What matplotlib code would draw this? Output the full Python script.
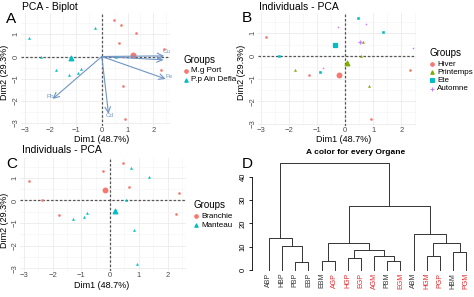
import matplotlib
matplotlib.use("Agg")
import matplotlib.pyplot as plt
from matplotlib.lines import Line2D
import numpy as np

plt.rcParams['font.family'] = ['Liberation Sans', 'DejaVu Sans']

# PCA individual coordinates (Dim1, Dim2)
dim1 = [-2.83, -2.36, -1.78, -1.29, -0.91, -0.80, -0.25, 0.46,
        0.73, 0.65, 0.55, 1.34, 0.84, 0.92, 2.40, 2.29]
dim2 = [0.85, 0.0, -0.62, -0.83, -0.73, -0.54, 1.30, 1.66,
        1.43, 0.60, 0.0, 1.05, -1.31, -2.80, 0.35, -0.60]
species = ['P.p Ain Defla'] * 7 + ['M.g Port'] * 3 + ['P.p Ain Defla'] + ['M.g Port'] * 5
season = ['Hiver', 'Ete', 'Printemps', 'Hiver', 'Ete', 'Automne', 'Automne', 'Ete',
          'Automne', 'Printemps', 'Printemps', 'Ete', 'Printemps', 'Hiver', 'Automne', 'Hiver']
organ = ['Branchie', 'Branchie', 'Branchie', 'Manteau', 'Manteau', 'Manteau', 'Branchie', 'Branchie',
         'Manteau', 'Branchie', 'Manteau', 'Manteau', 'Manteau', 'Manteau', 'Branchie', 'Branchie']

# variables for the biplot
var_names = ['Cu', '', 'Fe', 'Pb', 'Cd']
var_x = [2.42, 2.40, 2.48, -1.91, 0.26]
var_y = [0.03, -0.15, -1.01, -1.91, -2.58]

# dendrogram
leaves = ['ABP', 'HBP', 'PBP', 'EBP', 'EBM', 'AGP', 'HGP', 'EGP',
          'AGM', 'PBM', 'EGM', 'ABM', 'HGM', 'PGP', 'HBM', 'PGM']
leaf_red = [0, 0, 0, 0, 0, 1, 1, 1, 1, 0, 1, 0, 1, 1, 0, 1]
merge_a = [2, 1, 0, 4, 6, 9, 8, 20, 19, 12, 14, 25, 11, 24, 18]
merge_b = [3, 16, 17, 5, 7, 10, 21, 22, 23, 13, 15, 26, 27, 28, 29]
merge_h = [3.3, 10.3, 13.7, 4.0, 5.2, 4.0, 5.8, 8.8, 11.8, 6.1, 7.8, 11.6, 15.6, 27.4, 46.1]

W, H = 474, 297
fig = plt.figure(figsize=(W / 100, H / 100), dpi=100)


def px(x, y):
    return x / W, 1 - y / H


def rect(l, t, r, b):
    return [l / W, 1 - b / H, (r - l) / W, (b - t) / H]


gray = '#4d4d4d'


def pca_ax(r, xlim, ylim, xlab_pos, ylab_pos):
    ax = fig.add_axes(r)
    ax.set_xlim(*xlim)
    ax.set_ylim(*ylim)
    ax.set_xticks([-3, -2, -1, 0, 1, 2])
    ax.set_yticks([-3, -2, -1, 0, 1])
    ax.set_xticks(np.arange(-3, 3, 0.5), minor=True)
    ax.set_yticks(np.arange(-3, 2, 0.5), minor=True)
    ax.grid(which='major', color='#ebebeb', lw=0.6)
    ax.grid(which='minor', color='#f4f4f4', lw=0.4)
    ax.set_axisbelow(True)
    for s in ax.spines.values():
        s.set_visible(False)
    ax.tick_params(which='both', length=0, labelsize=5.5, labelcolor=gray, pad=0.8)
    for lab in ax.get_yticklabels():
        lab.set_rotation(90)
        lab.set_va('center')
    ax.axhline(0, color='#555555', ls=(0, (2, 1.5)), lw=0.9, zorder=1)
    ax.axvline(0, color='#555555', ls=(0, (2, 1.5)), lw=0.9, zorder=1)
    fig.text(*px(*xlab_pos), 'Dim1 (48.7%)', fontsize=6.5, ha='center', va='center')
    fig.text(*px(*ylab_pos), 'Dim2 (29.3%)', fontsize=6.5, ha='center', va='center', rotation=90)
    return ax


def draw_groups(ax, groups, levels, colors, markers, small, big):
    x = np.array(dim1)
    y = np.array(dim2)
    g = np.array(groups)
    for lev, c, m in zip(levels, colors, markers):
        sel = g == lev
        ax.scatter(x[sel], y[sel], s=small, color=c, marker=m, lw=0.4, zorder=3)
        ax.scatter(x[sel].mean(), y[sel].mean(), s=big, color=c, marker=m, lw=0.9, zorder=4)


def legend(x, y, levels, colors, markers, step):
    fig.text(*px(x, y), 'Groups', fontsize=7, va='center', ha='left')
    for i, (lev, c, m) in enumerate(zip(levels, colors, markers)):
        yy = y + 11 + i * step
        fig.add_artist(Line2D([(x + 3) / W], [1 - yy / H], marker=m, color=c, ms=2.6, mew=0.7, ls=''))
        fig.text(*px(x + 8, yy), lev, fontsize=5.8, va='center', ha='left')


red, teal = '#F8766D', '#00BFC4'
vcol = '#7095c4'

# Panel A
axA = pca_ax(rect(21, 13, 170, 126), (-3.14, 2.65), (-3.13, 1.96), (102, 139.5), (4.5, 72))
for vx, vy, vn in zip(var_x, var_y, var_names):
    axA.annotate('', xy=(vx, vy), xytext=(0, 0),
                 arrowprops=dict(arrowstyle='->', color=vcol, lw=0.8, shrinkA=0, shrinkB=0), zorder=5)
axA.text(2.5, 0.22, 'Cu', fontsize=4.5, color=vcol, ha='center', va='center')
axA.text(2.6, -0.9, 'Fe', fontsize=4.5, color=vcol, ha='center', va='center')
axA.text(-2.0, -1.8, 'Pb', fontsize=4.5, color=vcol, ha='center', va='center')
axA.text(0.3, -2.65, 'Cd', fontsize=4.5, color=vcol, ha='center', va='center')
draw_groups(axA, species, ['M.g Port', 'P.p Ain Defla'], [red, teal], ['o', '^'], 2, 11)
legend(183, 60, ['M.g Port', 'P.p Ain Defla'], [red, teal], ['o', '^'], 8.6)
fig.text(*px(22, 7), 'PCA - Biplot', fontsize=7.5, va='center', ha='left')
fig.text(*px(6, 19), 'A', fontsize=11, va='center', ha='left')

# Panel B
seasons = ['Hiver', 'Printemps', 'Ete', 'Automne']
scol = ['#F8766D', '#7CAE00', '#00BFC4', '#C77CFF']
smark = ['o', '^', 's', '+']
axB = pca_ax(rect(258, 13, 416, 126), (-3.1, 2.52), (-3.1, 1.9), (344, 139.5), (241.5, 72))
draw_groups(axB, season, seasons, scol, smark, 2, 11)
legend(429, 53, seasons, scol, smark, 8.2)
fig.text(*px(259, 7), 'Individuals - PCA', fontsize=7.5, va='center', ha='left')
fig.text(*px(242, 18), 'B', fontsize=11, va='center', ha='left')

# Panel C
axC = pca_ax(rect(20, 158, 186, 271), (-3.13, 2.64), (-3.12, 1.88), (102, 285), (4.5, 220))
draw_groups(axC, organ, ['Branchie', 'Manteau'], [red, teal], ['o', '^'], 2, 11)
legend(193, 205, ['Branchie', 'Manteau'], [red, teal], ['o', '^'], 9.4)
fig.text(*px(22, 150), 'Individuals - PCA', fontsize=7.5, va='center', ha='left')
fig.text(*px(6, 164), 'C', fontsize=11, va='center', ha='left')

# Panel D - dendrogram
axD = fig.add_axes(rect(252, 158.4, 474, 274.6))
axD.set_xlim(-1.29, 15.6)
axD.set_ylim(-2, 48)
xpos = {i: float(i) for i in range(len(leaves))}
hpos = {i: 0.0 for i in range(len(leaves))}
for k, (a, b, h) in enumerate(zip(merge_a, merge_b, merge_h)):
    node = len(leaves) + k
    xa, xb = xpos[a], xpos[b]
    axD.plot([xa, xa, xb, xb], [hpos[a], h, h, hpos[b]], color='#333333', lw=0.7)
    xpos[node] = (xa + xb) / 2
    hpos[node] = h
for i, name in enumerate(leaves):
    axD.text(i, -1.2, name, rotation=90, ha='center', va='top', fontsize=5,
             color='#e8282b' if leaf_red[i] else '#333333', clip_on=False)
for s in ['top', 'right', 'bottom']:
    axD.spines[s].set_visible(False)
axD.spines['left'].set_bounds(0, 40)
axD.spines['left'].set_linewidth(0.6)
axD.set_xticks([])
axD.set_yticks([0, 10, 20, 30, 40])
axD.tick_params(axis='y', length=2.5, width=0.6, labelsize=5.5, pad=1.5)
for lab in axD.get_yticklabels():
    lab.set_rotation(90)
    lab.set_va('center')
fig.text(*px(356, 153), 'A color for every Organe', fontsize=6, fontweight='bold', ha='center', va='center')
fig.text(*px(242, 164), 'D', fontsize=11, va='center', ha='left')

fig.savefig('out.png', dpi=100)
